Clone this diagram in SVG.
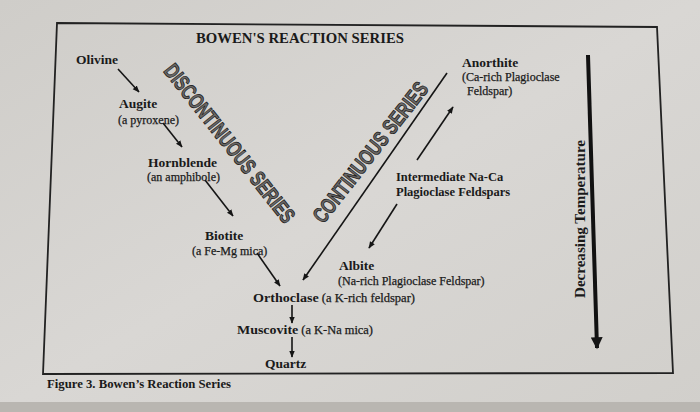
<svg xmlns="http://www.w3.org/2000/svg" width="700" height="412" viewBox="0 0 700 412">
<defs>
<linearGradient id="paper" x1="0" y1="0" x2="1" y2="1">
<stop offset="0" stop-color="#cfcdc9"/>
<stop offset="0.5" stop-color="#d9d7d4"/>
<stop offset="1" stop-color="#d1cfcb"/>
</linearGradient>
<marker id="ah" viewBox="0 0 10 10" refX="9" refY="5" markerWidth="7" markerHeight="7" orient="auto" markerUnits="userSpaceOnUse">
<path d="M0,1 L10,5 L0,9 Z" fill="#151515"/>
</marker>
<marker id="ahBig" viewBox="0 0 10 10" refX="9" refY="5" markerWidth="14" markerHeight="12" orient="auto" markerUnits="userSpaceOnUse">
<path d="M0,0 L10,5 L0,10 Z" fill="#151515"/>
</marker>
</defs>
<style>
text{font-family:"Liberation Serif","Times New Roman",serif;fill:#1a1a1a}
.b{font-weight:bold;font-size:13.5px}
.r{font-size:12px;stroke:#1a1a1a;stroke-width:0.25}
.title{font-weight:bold;font-size:15px}
.series{font-family:"Liberation Sans Narrow","Liberation Sans",Arial,sans-serif;font-weight:bold;font-size:22px;fill:#6a6866;stroke:#151515;stroke-width:0.8}
.arr{stroke:#151515;stroke-width:1.6;fill:none;marker-end:url(#ah)}
</style>
<rect width="700" height="412" fill="url(#paper)"/>
<rect x="0" y="402" width="700" height="10" fill="#b9b6b1"/>
<polygon id="frame" points="57,23 657,27 673,373 43,374" fill="none" stroke="#222" stroke-width="1.8"/>

<g id="title"><text class="title" x="300" y="43" text-anchor="middle" textLength="208" lengthAdjust="spacingAndGlyphs">BOWEN'S REACTION SERIES</text></g>

<g id="olivine"><text class="b" x="76" y="64">Olivine</text></g>
<g id="augite"><text class="b" x="119" y="108">Augite</text><text class="r" x="118" y="124">(a pyroxene)</text></g>
<g id="hornblende"><text class="b" x="148" y="167">Hornblende</text><text class="r" x="147" y="181">(an amphibole)</text></g>
<g id="biotite"><text class="b" x="205" y="240">Biotite</text><text class="r" x="192" y="255">(a Fe-Mg mica)</text></g>
<g id="anorthite"><text class="b" x="462" y="67">Anorthite</text><text class="r" x="462" y="81">(Ca-rich Plagioclase</text><text class="r" x="467" y="95">Feldspar)</text></g>
<g id="intermediate"><text class="b" x="396" y="181" style="font-size:12.5px">Intermediate Na-Ca</text><text class="b" x="396" y="196" style="font-size:12.5px">Plagioclase Feldspars</text></g>
<g id="albite"><text class="b" x="339" y="270">Albite</text><text class="r" x="338" y="285">(Na-rich Plagioclase Feldspar)</text></g>
<g id="orthoclase"><text x="253" y="302" textLength="162" lengthAdjust="spacingAndGlyphs"><tspan class="b">Orthoclase</tspan><tspan class="r"> (a K-rich feldspar)</tspan></text></g>
<g id="muscovite"><text x="237" y="334" textLength="136" lengthAdjust="spacingAndGlyphs"><tspan class="b">Muscovite</tspan><tspan class="r"> (a K-Na mica)</tspan></text></g>
<g id="quartz"><text class="b" x="265" y="368">Quartz</text></g>

<g id="discontinuous-series"><text class="series" transform="translate(230,143) rotate(51.6)" x="0" y="8" text-anchor="middle" textLength="196" lengthAdjust="spacingAndGlyphs">DISCONTINUOUS SERIES</text></g>
<g id="continuous-series"><text class="series" transform="translate(370,152) rotate(-51.9)" x="0" y="8" text-anchor="middle" textLength="172" lengthAdjust="spacingAndGlyphs">CONTINUOUS SERIES</text></g>

<g id="temperature">
<line x1="588" y1="55" x2="597" y2="348" stroke="#111" stroke-width="4" marker-end="url(#ahBig)"/>
<text class="b" transform="translate(580,219) rotate(-90)" x="0" y="5" text-anchor="middle" textLength="158" lengthAdjust="spacingAndGlyphs" style="font-size:14.5px">Decreasing Temperature</text>
</g>

<g id="connectors">
<line class="arr" x1="118" y1="69" x2="139" y2="92"/>
<line class="arr" x1="163" y1="123" x2="182" y2="147"/>
<line class="arr" x1="205" y1="180" x2="233" y2="216"/>
<line class="arr" x1="257" y1="253" x2="280" y2="286"/>
<line class="arr" x1="447" y1="73" x2="303" y2="280"/>
<line class="arr" x1="417" y1="160" x2="453" y2="107"/>
<line class="arr" x1="397" y1="204" x2="369" y2="248"/>
<line class="arr" x1="292" y1="305" x2="292" y2="323"/>
<line class="arr" x1="292" y1="337" x2="292" y2="357"/>
</g>

<g id="caption"><text class="b" x="47" y="388" textLength="184" lengthAdjust="spacingAndGlyphs" style="font-size:12.5px">Figure 3. Bowen’s Reaction Series</text></g>
</svg>
